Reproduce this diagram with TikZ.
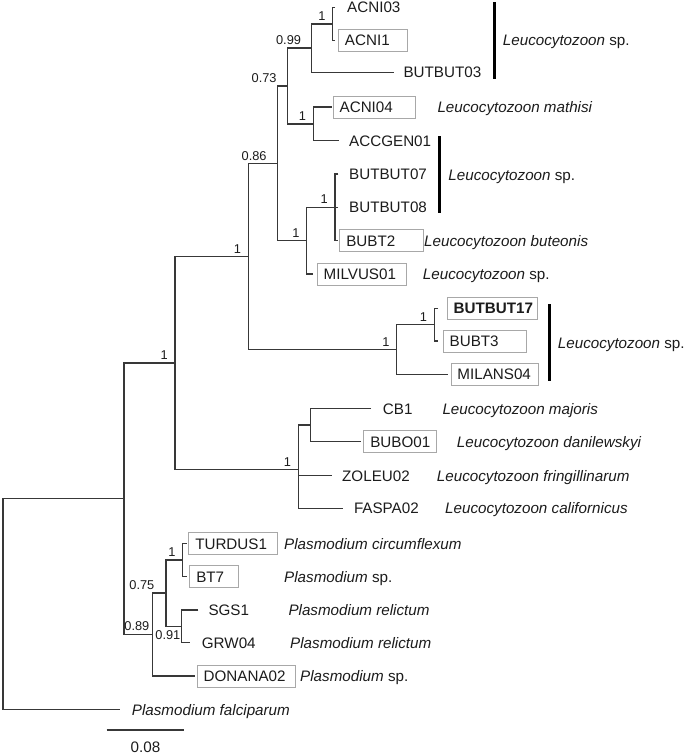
\documentclass[tikz,border=0pt]{standalone}
\usepackage{fontspec}
\setmainfont{Liberation Sans}
\usetikzlibrary{positioning}
\definecolor{cline}{HTML}{383838}
\definecolor{ctext}{HTML}{1C1C1C}
\definecolor{cbox}{HTML}{A8A8A8}
\newcommand{\leaffont}{\fontsize{15.2}{18}\selectfont}
\newcommand{\suppfont}{\fontsize{12.8}{15}\selectfont}
\tikzset{
  branch/.style={draw=cline, line width=1.25pt},
  leaf/.style={font=\leaffont, text=ctext, inner sep=0pt, text height=11pt,
               text depth=0pt, anchor=west},
  tagged/.style={leaf, draw=cbox, line width=0.9pt, inner xsep=6.5pt,
                 minimum height=22pt, text width=#1, align=left},
  clade/.style={fill=black, inner sep=0pt, minimum width=3pt, minimum height=#1},
  suppbase/.style={font=\suppfont, text=ctext, inner sep=0pt, text depth=0pt,
                   anchor=south east},
  supp/.style={suppbase, xshift=-7pt, yshift=3.2pt},
  suppw/.style={suppbase, xshift=-10.5pt, yshift=3pt},
}
\begin{document}
\begin{tikzpicture}[x=1pt, y=-1pt]
  \fill[white] (0,0) rectangle (685,754);
  % internal nodes
  \coordinate (nA) at (332.7,24);
  \coordinate (nB) at (311.7,48);
  \coordinate (nC) at (313.3,123.9);
  \coordinate (nD) at (287.3,86);
  \coordinate (nE) at (335,207.3);
  \coordinate (nF) at (306.7,240.7);
  \coordinate (nG) at (277.3,163.3);
  \coordinate (nH) at (434.3,324.7);
  \coordinate (nI) at (396.7,349.5);
  \coordinate (nJ) at (248.3,256.4);
  \coordinate (nK) at (310.7,425);
  \coordinate (nL) at (298.3,469.5);
  \coordinate (nM) at (175,363);
  \coordinate (nP1) at (182.7,560);
  \coordinate (nP2) at (181.7,626.3);
  \coordinate (nP3) at (166,593.1);
  \coordinate (nP4) at (152.7,634.5);
  \coordinate (nN) at (124,498.8);
  \coordinate (root) at (3,604);
  % tips
  \coordinate (tACNI03) at (335,7.5);
  \coordinate (tACNI1) at (335,40.5);
  \coordinate (tBUTBUT03) at (394,72.3);
  \coordinate (tACNI04) at (331.7,107);
  \coordinate (tACCGEN01) at (339.3,140.7);
  \coordinate (tBUTBUT07) at (338.3,174);
  \coordinate (tBUTBUT08) at (338.3,207.3);
  \coordinate (tBUBT2) at (338.3,240.7);
  \coordinate (tMILVUS01) at (313.3,274);
  \coordinate (tBUTBUT17) at (438,308.3);
  \coordinate (tBUBT3) at (438,341);
  \coordinate (tMILANS04) at (448.3,374.3);
  \coordinate (tCB1) at (371,408.5);
  \coordinate (tBUBO01) at (360.7,441.5);
  \coordinate (tZOLEU02) at (331.7,475.5);
  \coordinate (tFASPA02) at (342.7,508.3);
  \coordinate (tTURDUS1) at (186.7,543.5);
  \coordinate (tBT7) at (186.7,576.5);
  \coordinate (tSGS1) at (198.3,610);
  \coordinate (tGRW04) at (190,642.5);
  \coordinate (tDONANA02) at (195,676);
  \coordinate (tFALC) at (120,709.5);

  % branches, one path per split
  \draw[branch] (tACNI03) -| (nA) |- (tACNI1);
  \draw[branch] (nA) -| (nB) |- (tBUTBUT03);
  \draw[branch] (tACNI04) -| (nC) |- (tACCGEN01);
  \draw[branch] (nB) -| (nD) |- (nC);
  \draw[branch] (tBUTBUT07) -| (nE) |- (tBUBT2);
  \draw[branch] (nE) -- (tBUTBUT08);
  \draw[branch] (nE) -| (nF) |- (tMILVUS01);
  \draw[branch] (nD) -| (nG) |- (nF);
  \draw[branch] (tBUTBUT17) -| (nH) |- (tBUBT3);
  \draw[branch] (nH) -| (nI) |- (tMILANS04);
  \draw[branch] (nG) -| (nJ) |- (nI);
  \draw[branch] (tCB1) -| (nK) |- (tBUBO01);
  \draw[branch] (nK) -| (nL) |- (tFASPA02);
  \draw[branch] (nL |- tZOLEU02) -- (tZOLEU02);
  \draw[branch] (nJ) -| (nM) |- (nL);
  \draw[branch] (tTURDUS1) -| (nP1) |- (tBT7);
  \draw[branch] (tSGS1) -| (nP2) |- (tGRW04);
  \draw[branch] (nP1) -| (nP3) |- (nP2);
  \draw[branch] (nP3) -| (nP4) |- (tDONANA02);
  \draw[branch] (nM) -| (nN) |- (nP4);
  \draw[branch] (nN) -| (root) |- (tFALC);

  % support values
  \node[supp] (sA) at (nA) {1};
  \node[suppw] (sB) at (nB) {0.99};
  \node[supp] (sC) at (nC) {1};
  \node[suppw] (sD) at (nD) {0.73};
  \node[supp] (sE) at (nE) {1};
  \node[supp] (sF) at (nF) {1};
  \node[suppw] (sG) at (nG) {0.86};
  \node[supp] (sH) at (nH) {1};
  \node[supp] (sI) at (nI) {1};
  \node[supp] (sJ) at (nJ) {1};
  \node[supp] (sL) at (nL) {1};
  \node[supp] (sM) at (nM) {1};
  \node[supp] (sP1) at (nP1) {1};
  \node[suppw, xshift=-1pt, yshift=0.5pt] (sP3) at (nP3) {0.75};
  \node[suppbase, xshift=-3.2pt, yshift=3.9pt] (sP4) at (nP4) {0.89};
  \node[suppbase, anchor=north east, xshift=-1.2pt, yshift=-4.2pt] (sP2) at (nP2) {0.91};

  % leaf names
  \node[leaf, right=12pt of tACNI03] (ACNI03) {ACNI03};
  \node[tagged=56pt, right=3pt of tACNI1] (ACNI1) {ACNI1};
  \node[leaf, right=9.3pt of tBUTBUT03] (BUTBUT03) {BUTBUT03};
  \node[tagged=69.3pt, right=1pt of tACNI04] (ACNI04) {ACNI04};
  \node[leaf, right=9.7pt of tACCGEN01] (ACCGEN01) {ACCGEN01};
  \node[leaf, right=10.7pt of tBUTBUT07] (BUTBUT07) {BUTBUT07};
  \node[leaf, right=10.7pt of tBUTBUT08] (BUTBUT08) {BUTBUT08};
  \node[tagged=70.4pt, right=1pt of tBUBT2] (BUBT2) {BUBT2};
  \node[tagged=76.3pt, right=3.4pt of tMILVUS01] (MILVUS01) {MILVUS01};
  \node[tagged=77.6pt, right=8.7pt of tBUTBUT17] (BUTBUT17) {\textbf{BUTBUT17}};
  \node[tagged=70.3pt, right=4.7pt of tBUBT3] (BUBT3) {BUBT3};
  \node[tagged=74pt, right=2.2pt of tMILANS04] (MILANS04) {MILANS04};
  \node[leaf, right=11.7pt of tCB1] (CB1) {CB1};
  \node[tagged=60pt, right=2.6pt of tBUBO01] (BUBO01) {BUBO01};
  \node[leaf, right=10.3pt of tZOLEU02] (ZOLEU02) {ZOLEU02};
  \node[leaf, right=11.1pt of tFASPA02] (FASPA02) {FASPA02};
  \node[tagged=75.4pt, right=1.6pt of tTURDUS1] (TURDUS1) {TURDUS1};
  \node[tagged=35.4pt, right=2.6pt of tBT7] (BT7) {BT7};
  \node[leaf, right=10pt of tSGS1] (SGS1) {SGS1};
  \node[leaf, right=11.7pt of tGRW04] (GRW04) {GRW04};
  \node[tagged=85.3pt, right=1.7pt of tDONANA02] (DONANA02) {DONANA02};
  \node[leaf, right=11.7pt of tFALC] (FALC) {\textit{Plasmodium falciparum}};

  % clade bars and species
  \node[clade=77.3pt] (bar1) at (494,40.3) {};
  \node[clade=77.3pt] (bar2) at (439.5,174.7) {};
  \node[clade=77pt] (bar3) at (549,342.5) {};
  \node[leaf, right=7pt of bar1] (spA) {\textit{Leucocytozoon} sp.};
  \node[leaf, right=7pt of bar2] (spB) {\textit{Leucocytozoon} sp.};
  \node[leaf, right=7pt of bar3] (spC) {\textit{Leucocytozoon} sp.};
  \node[leaf] (mathisi) at (437.3,107) {\textit{Leucocytozoon mathisi}};
  \node[leaf] (buteonis) at (424,240.7) {\textit{Leucocytozoon buteonis}};
  \node[leaf] (spMil) at (422.7,274) {\textit{Leucocytozoon} sp.};
  \node[leaf] (majoris) at (442.3,408.5) {\textit{Leucocytozoon majoris}};
  \node[leaf] (danil) at (456.7,441.5) {\textit{Leucocytozoon danilewskyi}};
  \node[leaf] (fringil) at (436.7,475.5) {\textit{Leucocytozoon fringillinarum}};
  \node[leaf] (califor) at (445,508.3) {\textit{Leucocytozoon californicus}};
  \node[leaf] (circum) at (284,543.5) {\textit{Plasmodium circumflexum}};
  \node[leaf] (plspA) at (284,576.5) {\textit{Plasmodium} sp.};
  \node[leaf] (relA) at (288.3,610) {\textit{Plasmodium relictum}};
  \node[leaf] (relB) at (290,642.5) {\textit{Plasmodium relictum}};
  \node[leaf] (plspB) at (300,676) {\textit{Plasmodium} sp.};

  % scale bar
  \coordinate (sbL) at (106.7,730);
  \coordinate (sbR) at (184.3,730);
  \draw[branch] (sbL) -- (sbR);
  \node[leaf, anchor=center] (sbText) at (145.5,746.7) {0.08};
\end{tikzpicture}
\end{document}
